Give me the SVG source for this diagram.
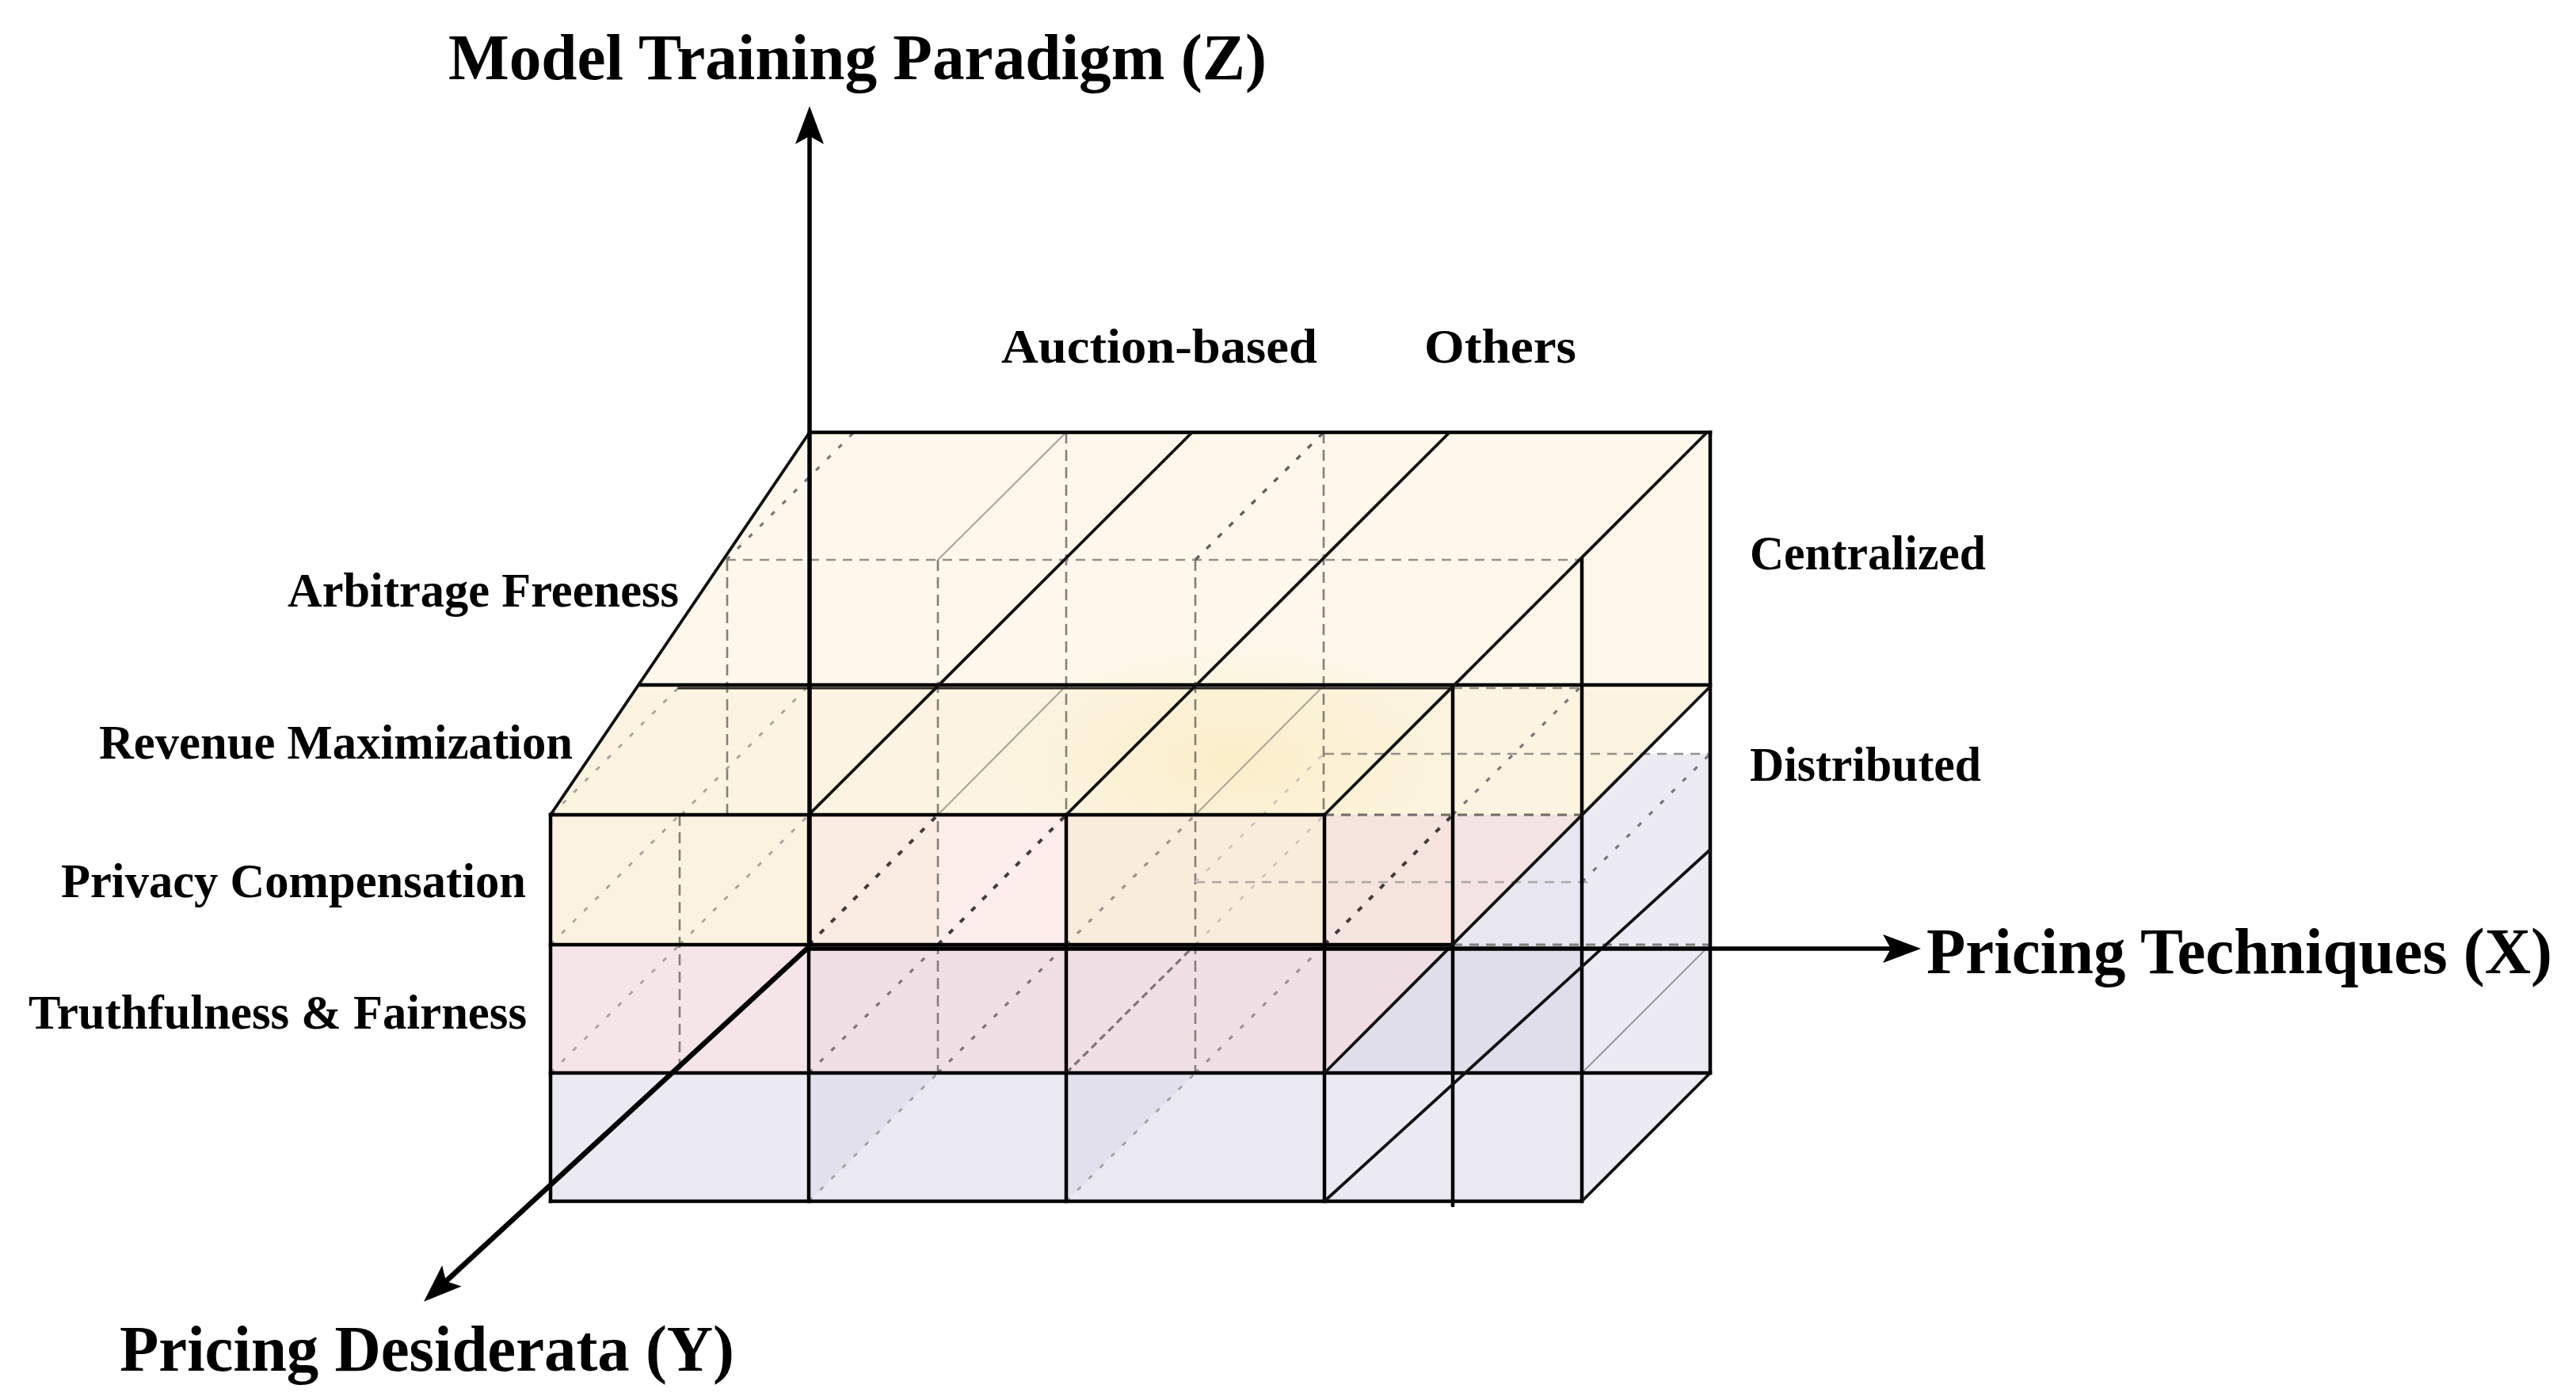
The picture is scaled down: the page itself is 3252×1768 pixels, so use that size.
<svg xmlns="http://www.w3.org/2000/svg" width="3252" height="1768" viewBox="0 0 3252 1768">
<defs>
<style>
.s{stroke:#000;stroke-width:4.5;fill:none;stroke-linecap:square}
.dg{stroke:#111;stroke-width:3.8;fill:none}
.th{stroke:#a8a297;stroke-width:2;fill:none}
.dv{stroke:#858078;stroke-width:2.6;stroke-dasharray:14 8;fill:none}
.dh{stroke:#959089;stroke-width:2.6;stroke-dasharray:12 9;fill:none}
.dk{stroke:#403c3c;stroke-width:4;stroke-dasharray:7 13;fill:none}
.dm{stroke:#7c7777;stroke-width:3.2;stroke-dasharray:6 14;fill:none}
.dl{stroke:#a6a29e;stroke-width:2.8;stroke-dasharray:6 14;fill:none}
.df{stroke:#c8c3bd;stroke-width:2.6;stroke-dasharray:6 14;fill:none}
.ax{stroke:#000;fill:none}
.t{font-family:"Liberation Serif","Times New Roman",serif;font-weight:bold;fill:#000}
.lb{font-size:62px}
.at{font-size:82px}
</style>
<marker id="arr" viewBox="0 0 48 36" refX="10" refY="18" markerWidth="48" markerHeight="36" markerUnits="userSpaceOnUse" orient="auto">
<path d="M0,0 L48,18 L0,36 L10,18 Z" fill="#000"/>
</marker>
<radialGradient id="glow" cx="0.5" cy="0.5" r="0.5">
<stop offset="0" stop-color="#fbeec6" stop-opacity="0.9"/>
<stop offset="1" stop-color="#fbeec6" stop-opacity="0"/>
</radialGradient>
</defs>
<rect width="3252" height="1768" fill="#fff"/>

<g id="fills">
<polygon points="1022,546 2159,546 2159,866 1997,1029 695,1029" fill="#fdf8eb"/>
<polygon points="806,866 2159,866 1997,1029 695,1029" fill="#fcf4e1"/>
<ellipse cx="1560" cy="960" rx="300" ry="150" fill="url(#glow)"/>
<polygon points="1997,1029 2074,952 2159,952 2159,1355 1997,1517" fill="#ecebf4"/>
<rect x="695" y="1029" width="326" height="164" fill="#fcf2e0"/>
<rect x="1021" y="1029" width="163" height="164" fill="#fbece3"/>
<rect x="1184" y="1029" width="162" height="164" fill="#fdedeb"/>
<rect x="1346" y="1029" width="326" height="164" fill="#faecdb"/>
<rect x="1672" y="1029" width="162" height="164" fill="#f5e3de"/>
<polygon points="1834,1029 1997,1029 1834,1193" fill="#f3e3e2"/>
<polygon points="1997,1029 1997,1193 1834,1193" fill="#e8e6f0"/>
<rect x="695" y="1193" width="326" height="162" fill="#f5e5e8"/>
<rect x="1021" y="1193" width="651" height="162" fill="#f0dfe4"/>
<polygon points="1672,1193 1834,1193 1672,1355" fill="#eedde3"/>
<polygon points="1834,1193 1834,1355 1672,1355" fill="#dfdeea"/>
<rect x="1834" y="1193" width="163" height="162" fill="#dfdeea"/>
<rect x="695" y="1355" width="1302" height="162" fill="#ebeaf3"/>
<polygon points="1021,1355 1184,1355 1021,1517" fill="#e1e0ec"/>
<polygon points="1346,1355 1509,1355 1346,1517" fill="#e1e0ec"/>
</g>

<g id="hidden-edges">
<line class="dv" x1="918" y1="707" x2="918" y2="1029"/>
<line class="dv" x1="858" y1="1029" x2="858" y2="1355"/>
<line class="dv" x1="1184" y1="707" x2="1184" y2="1355"/>
<line class="dv" x1="1346" y1="546" x2="1346" y2="1029"/>
<line class="dv" x1="1509" y1="707" x2="1509" y2="1355"/>
<line class="dv" x1="1671" y1="546" x2="1671" y2="1029"/>
<line class="dh" x1="917" y1="707" x2="1997" y2="707"/>
<line class="dh" x1="1672" y1="952" x2="2159" y2="952"/>
<line class="dh" x1="1509" y1="1114" x2="2006" y2="1114" style="stroke:#aca8a3"/>
<line class="dh" x1="1672" y1="1029" x2="1997" y2="1029" style="stroke:#6f6b67;stroke-width:3.2"/>
<line class="dh" x1="1834" y1="1193" x2="2159" y2="1193" style="stroke:#84807a;stroke-width:3.2"/>
<line class="dh" x1="1834" y1="869" x2="1997" y2="869"/>
<line class="dm" x1="917" y1="707" x2="1078" y2="546"/>
<line class="dl" x1="696" y1="1029" x2="857" y2="868"/>
<line class="dl" x1="860" y1="1029" x2="1021" y2="866"/>
<line class="dk" x1="1509" y1="707" x2="1671" y2="546" style="stroke:#625e5e;stroke-width:3.4"/>
<line class="dk" x1="1672" y1="1193" x2="1834" y2="1029"/>
<line class="dm" x1="1834" y1="1029" x2="1997" y2="866"/>
<line class="dm" x1="1997" y1="1114" x2="2159" y2="952"/>
<line class="df" x1="1509" y1="1114" x2="1671" y2="952"/>
<line class="dl" x1="695" y1="1193" x2="858" y2="1029"/>
<line class="dl" x1="858" y1="1193" x2="1021" y2="1029"/>
<line class="dk" x1="1021" y1="1193" x2="1184" y2="1029"/>
<line class="dk" x1="1184" y1="1193" x2="1346" y2="1029"/>
<line class="dm" x1="1346" y1="1193" x2="1509" y2="1029" style="stroke:#9a9590"/>
<line class="df" x1="1509" y1="1193" x2="1672" y2="1029"/>
<line class="dl" x1="695" y1="1355" x2="858" y2="1193"/>
<line class="dm" x1="1021" y1="1355" x2="1184" y2="1193"/>
<line class="dm" x1="1184" y1="1355" x2="1346" y2="1193"/>
<line class="dm" x1="1346" y1="1355" x2="1509" y2="1193" style="stroke-dasharray:9 6"/>
<line class="dm" x1="1509" y1="1355" x2="1672" y2="1193" style="stroke:#9a9590"/>
<line class="dl" x1="1021" y1="1517" x2="1184" y2="1355"/>
<line class="dl" x1="1346" y1="1517" x2="1509" y2="1355"/>
<line class="th" x1="1184" y1="707" x2="1346" y2="546"/>
<line class="th" x1="1184" y1="1029" x2="1346" y2="866"/>
<line class="th" x1="1509" y1="1029" x2="1671" y2="866"/>
<line class="th" x1="1997" y1="1355" x2="2159" y2="1193" style="stroke:#9a96a8"/>
</g>

<g id="grid">
<line class="s" x1="1022" y1="546" x2="2159" y2="546"/>
<line class="s" x1="808" y1="865" x2="2159" y2="865"/>
<line class="s" x1="857" y1="869" x2="1834" y2="869" style="stroke:#2a2622;stroke-width:3"/>
<line class="dg" x1="1022" y1="546" x2="695" y2="1029"/>
<line class="s" x1="695" y1="1029" x2="1672" y2="1029"/>
<line class="s" x1="695" y1="1193" x2="1834" y2="1193"/>
<line class="s" x1="695" y1="1355" x2="2159" y2="1355"/>
<line class="s" x1="695" y1="1517" x2="1997" y2="1517"/>
<line class="s" x1="695" y1="1029" x2="695" y2="1517"/>
<line class="s" x1="1021" y1="1029" x2="1021" y2="1517"/>
<line class="s" x1="1346" y1="1029" x2="1346" y2="1517"/>
<line class="s" x1="1672" y1="1029" x2="1672" y2="1517"/>
<line class="s" x1="1834" y1="866" x2="1834" y2="1522"/>
<line class="s" x1="1997" y1="707" x2="1997" y2="1517"/>
<line class="s" x1="2159" y1="546" x2="2159" y2="1355"/>
<line class="dg" x1="1021" y1="1029" x2="1505" y2="546"/>
<line class="dg" x1="1346" y1="1029" x2="1830" y2="546"/>
<line class="dg" x1="1672" y1="1029" x2="2155" y2="546"/>
<line class="dg" x1="1672" y1="1355" x2="2159" y2="867"/>
<line class="dg" x1="1672" y1="1517" x2="2159" y2="1073"/>
<line class="dg" x1="1997" y1="1517" x2="2159" y2="1355"/>
</g>

<g id="connectors">
<line id="axis-z" class="ax" x1="1022" y1="1195" x2="1022" y2="172" stroke-width="5.5" marker-end="url(#arr)"/>
<line id="axis-x" class="ax" x1="1021" y1="1198" x2="2387" y2="1198" stroke-width="5.5" marker-end="url(#arr)"/>
<line id="axis-y" class="ax" x1="1022" y1="1195" x2="563" y2="1618" stroke-width="6.5" marker-end="url(#arr)"/>
</g>

<g id="labels">
<g id="label-z"><text class="t at" x="566" y="100" textLength="1033" lengthAdjust="spacingAndGlyphs">Model Training Paradigm (Z)</text></g>
<g id="label-x"><text class="t at" x="2432" y="1229" textLength="790" lengthAdjust="spacingAndGlyphs">Pricing Techniques (X)</text></g>
<g id="label-y"><text class="t at" x="151" y="1731" textLength="776" lengthAdjust="spacingAndGlyphs">Pricing Desiderata (Y)</text></g>
<g id="label-auction"><text class="t lb" x="1264" y="458" textLength="399" lengthAdjust="spacingAndGlyphs">Auction-based</text></g>
<g id="label-others"><text class="t lb" x="1798" y="458" textLength="192" lengthAdjust="spacingAndGlyphs">Others</text></g>
<g id="label-centralized"><text class="t lb" x="2209" y="719" textLength="298" lengthAdjust="spacingAndGlyphs">Centralized</text></g>
<g id="label-distributed"><text class="t lb" x="2209" y="986" textLength="292" lengthAdjust="spacingAndGlyphs">Distributed</text></g>
<g id="label-arbitrage"><text class="t lb" x="363" y="766" textLength="494" lengthAdjust="spacingAndGlyphs">Arbitrage Freeness</text></g>
<g id="label-revenue"><text class="t lb" x="125" y="958" textLength="598" lengthAdjust="spacingAndGlyphs">Revenue Maximization</text></g>
<g id="label-privacy"><text class="t lb" x="77" y="1133" textLength="587" lengthAdjust="spacingAndGlyphs">Privacy Compensation</text></g>
<g id="label-truth"><text class="t lb" x="36" y="1299" textLength="629" lengthAdjust="spacingAndGlyphs">Truthfulness &amp; Fairness</text></g>
</g>
</svg>
